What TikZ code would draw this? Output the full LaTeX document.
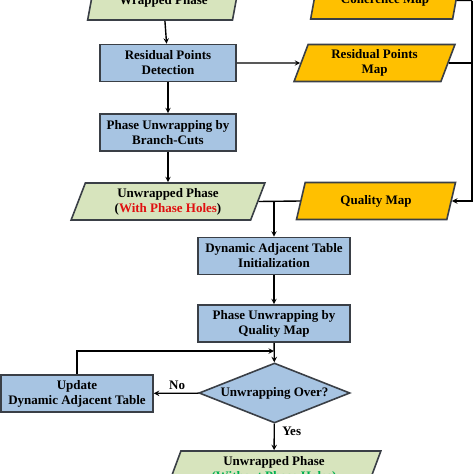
\documentclass[tikz,border=0pt]{standalone}
\usepackage{fontspec}
\setmainfont{Liberation Serif}
\usepackage{tikz}
\usetikzlibrary{calc,positioning,arrows,shapes}
\usetikzlibrary{shapes.geometric}
\usetikzlibrary{arrows.meta}
\definecolor{procblue}{HTML}{A7C4E2}
\definecolor{phasegreen}{HTML}{D7E4BD}
\definecolor{maporange}{HTML}{FFC000}
\definecolor{holered}{HTML}{E01010}
\definecolor{okgreen}{HTML}{00B050}
\definecolor{edgegray}{HTML}{3A3F46}
\tikzset{
	->,
	>=stealth,
	every node/.style={font=\fontsize{13}{15}\selectfont\bfseries, align=center},
	process/.style={rectangle, draw=edgegray, line width=1.6pt, fill=procblue,
		minimum width=136pt, minimum height=37pt, inner sep=1pt},
	parallel/.style={trapezium, trapezium left angle=72, trapezium right angle=108,
		trapezium stretches=true, draw=edgegray, line width=1.6pt,
		minimum height=37pt, inner sep=1pt},
	phasedata/.style={parallel, fill=phasegreen},
	mapdata/.style={parallel, fill=maporange},
	decision/.style={diamond, aspect=2.5, draw=edgegray, line width=1.6pt, fill=procblue,
		minimum width=151pt, minimum height=60pt, inner sep=0pt},
}

\begin{document}
\begin{tikzpicture}[
            x=1pt, y=-1pt,
            line width=1.4pt
        ]
        \useasboundingbox (0,0) rectangle (474,474);
        % left column
        \node[phasedata, minimum width=153pt] (wrapped) at (163.5,1.5) {Wrapped Phase};
        \node[process] (detect) at (168,63) {Residual Points\\Detection};
        \node[process] (branch) at (168,132.5) {Phase Unwrapping by\\Branch-Cuts};
        \node[phasedata, minimum width=194pt] (holes) at (168,201.5) {Unwrapped Phase\\(\textcolor{holered}{With Phase Holes})};
        % right column
        \node[mapdata, minimum width=150pt] (coherence) at (385,0.5) {Coherence Map};
        \node[mapdata, minimum width=161pt] (resmap) at (374.5,63) {Residual Points\\Map};
        \node[mapdata, minimum width=160pt] (quality) at (376,201) {Quality Map};
        % middle column
        \node[process, minimum width=152pt] (init) at (274,256) {Dynamic Adjacent Table\\Initialization};
        \node[process, minimum width=152pt] (qmunwrap) at (274,323.5) {Phase Unwrapping by\\Quality Map};
        \node[decision] (over) at (274.5,393) {Unwrapping Over?};
        \node[process, minimum width=152pt] (update) at (77,393.5) {Update\\Dynamic Adjacent Table};
        \node[phasedata, minimum width=214pt] (result) at (274,469.5) {Unwrapped Phase\\\textcolor{okgreen}{(Without Phase Holes)}};

        % connectors
        \coordinate (corner) at (472,0.5);
        \coordinate (split) at (init.north |- holes.east);
        \coordinate (merge) at (qmunwrap.south |- 0,351);
        \draw (wrapped) -- (detect);
        \draw (detect) -- (branch);
        \draw (detect.east) -- (resmap.west);
        \draw (branch) -- (holes);
        \draw[-] (holes.east) -- (quality.west);
        \draw (split) -- (init);
        \draw (init) -- (qmunwrap);
        \draw (qmunwrap) -- (over);
        \draw (over) -- node[above, pos=0.48] {No} (update);
        \draw (over) -- node[right, pos=0.3, xshift=4pt] {Yes} (result);
        \draw (update) |- (merge);
        \draw[-] (coherence.east) -- (corner);
        \draw[-] (resmap.east) -- (corner |- resmap.east);
        \draw (corner) |- (quality.east);
    \end{tikzpicture}
\end{document}
